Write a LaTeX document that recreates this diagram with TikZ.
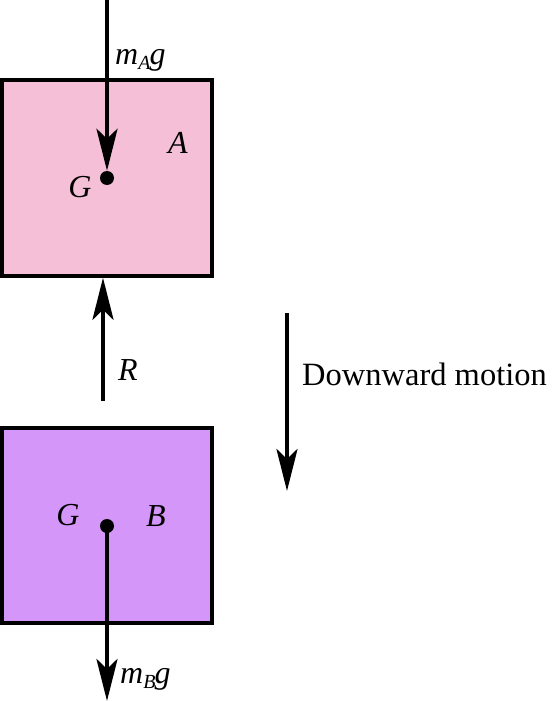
\documentclass[tikz,border=0pt]{standalone}
\usepackage{fontspec}
\setmainfont{Liberation Serif}
\usetikzlibrary{arrows.meta}
\definecolor{pinkA}{RGB}{245,192,215}
\definecolor{purpB}{RGB}{213,150,250}
\tikzset{
  block/.style={draw=black, line width=3.5pt, minimum width=210pt, minimum height=195pt, inner sep=0pt},
  force/.style={line width=4.5pt, -{Stealth[length=42pt, width=21pt, inset=10pt]}},
  lbl/.style={font=\fontsize{32}{36}\selectfont\itshape, inner sep=0pt},
  txt/.style={font=\fontsize{32.5}{36}\selectfont, inner sep=0pt, anchor=west},
  cg/.style={circle, fill=black, inner sep=0pt, minimum size=14pt}
}
\newcommand{\subl}[2]{#1\raisebox{-0.4ex}{\fontsize{20}{20}\selectfont #2}\kern-1pt}
\begin{document}
\begin{tikzpicture}[x=1pt,y=-1pt]
\useasboundingbox (0,0) rectangle (552,701);
% blocks
\node[block, fill=pinkA, minimum height=196pt] (boxA) at (107,178) {};
\node[block, fill=purpB] (boxB) at (107,525.5) {};
% centres of gravity
\node[cg] (gA) at (107,178) {};
\node[cg] (gB) at (107,526) {};
% labels
\node[lbl] (lGA) at (80,187) {G};
\node[lbl] (lA) at (178,143) {A};
\node[lbl] (lGB) at (68,515) {G};
\node[lbl] (lB) at (156,516) {B};
\node[lbl, anchor=base west] (lmA) at (115,64) {\subl{m}{A}g};
\node[lbl, anchor=base west] (lmB) at (120,683) {\subl{m}{B}g};
\node[lbl] (lR) at (128,370) {R};
\node[txt] (lDown) at (302,374) {Downward motion};
% force arrows
\coordinate (topA) at (107,-5);
\draw[force] (topA) -- (gA.north);
\coordinate (Rstart) at (103,401);
\draw[force] (Rstart) -- (Rstart |- boxA.south);
\coordinate (botB) at (107,701);
\draw[force] (gB.center) -- (botB);
\coordinate (m1) at (287,313);
\coordinate (m2) at (287,491);
\draw[force] (m1) -- (m2);
\end{tikzpicture}
\end{document}
